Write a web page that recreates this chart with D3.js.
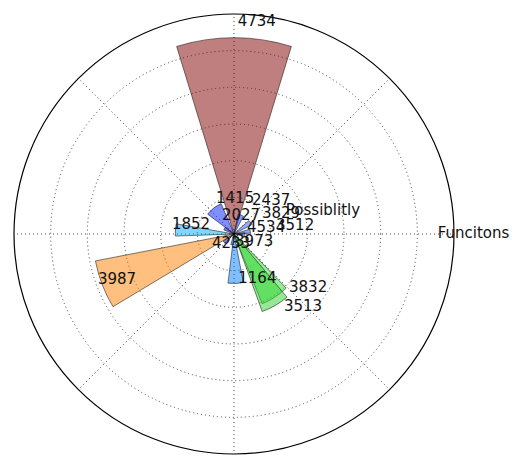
<!DOCTYPE html>
<html><head><meta charset="utf-8">
<script src="https://cdn.jsdelivr.net/npm/d3@7"></script>
<style>body{margin:0;background:#fff}text{font-family:"DejaVu Sans";font-size:15px;fill:#111}</style>
</head><body><svg width="525" height="467"></svg>
<script>
'use strict';
// bars: direction (deg, counter-clockwise from east), height, width (deg)
var values = [4734, 3987, 3832, 3513, 1164, 1852, 1415, 2437, 3829, 2027, 3512, 4534, 4233, 3973];
var angles = [90, 201, 303, 300, 272, 176, 128, 70, 35, 150, 10, 0, 220, 260];
var heights = [5.35, 3.85, 2.05, 2.25, 1.35, 1.6, 0.9, 0.55, 0.55, 0.3, 0.45, 0.3, 0.35, 0.3];
var widths = [34, 20, 22, 20, 18, 12, 30, 16, 14, 16, 14, 14, 14, 14];
var colors = ['#800000', '#ff7f00', '#2ee02e', '#30d030', '#0080ff', '#00b0ff', '#0020ff', '#1040ff', '#2060ff', '#0000c0', '#2050e0', '#3040d0', '#0000a0', '#1030f0'];
// value labels, polar position of text start
var labelAngles = [89, 200, 313.5, 303, 275, 175, 120, 58, 30, 131, 5, 9, 212, 275];
var labelRadii = [5.67, 3.95, 2.18, 2.5, 1.34, 1.7, 0.98, 0.93, 0.88, 0.5, 1.15, 0.36, 0.71, 0.33];
var thetaLabels = [{text: 'Funcitons', angle: 0, r: 5.5}, {text: 'Possiblitly', angle: 25, r: 1.5}];

var svg = d3.select('svg');
var cx = 234, cy = 234, R = 220;
var rScale = d3.scaleLinear().domain([0, 6]).range([0, R]);
var rad = function (d) { return d * Math.PI / 180; };
function px(a, r) { return [cx + rScale(r) * Math.cos(rad(a)), cy - rScale(r) * Math.sin(rad(a))]; }

var g = svg.append('g').attr('transform', 'translate(' + cx + ',' + cy + ')');

// radial grid
[1, 2, 3, 4, 5].forEach(function (t) {
	g.append('circle').attr('r', rScale(t)).attr('fill', 'none')
		.attr('stroke', '#444').attr('stroke-width', 1).attr('stroke-dasharray', '1,3');
});
d3.range(0, 360, 45).forEach(function (a) {
	g.append('line').attr('x2', R * Math.cos(rad(a))).attr('y2', -R * Math.sin(rad(a)))
		.attr('stroke', '#444').attr('stroke-dasharray', '1,3');
});

// bars (d3.arc uses clockwise-from-north angles)
var arc = d3.arc().innerRadius(0);
values.forEach(function (v, i) {
	var c = 90 - angles[i];
	g.append('path')
		.attr('d', arc({outerRadius: rScale(heights[i]), startAngle: rad(c - widths[i] / 2), endAngle: rad(c + widths[i] / 2)}))
		.attr('fill', colors[i]).attr('fill-opacity', 0.5)
		.attr('stroke', '#000').attr('stroke-opacity', 0.5).attr('stroke-width', 1);
});

g.append('circle').attr('r', R).attr('fill', 'none').attr('stroke', '#000').attr('stroke-width', 1.2);

values.forEach(function (v, i) {
	var p = px(labelAngles[i], labelRadii[i]);
	svg.append('text').attr('x', p[0]).attr('y', p[1]).text(v);
});
thetaLabels.forEach(function (t) {
	var p = px(t.angle, t.r);
	svg.append('text').attr('x', p[0] + 2).attr('y', p[1] + 4).text(t.text);
});
</script></body></html>
